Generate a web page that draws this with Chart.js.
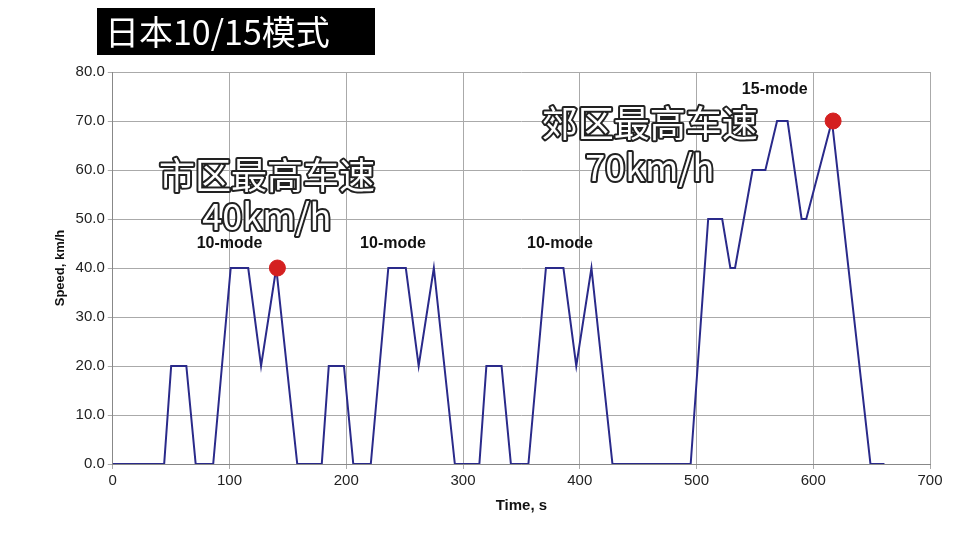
<!DOCTYPE html>
<html><head><meta charset="utf-8">
<script src="https://cdn.jsdelivr.net/npm/chart.js@4"></script>
<style>html,body{margin:0;background:#fff}#w{width:960px;height:555px;position:relative}</style>
</head><body><div id="w"><canvas id="c"></canvas></div>
<script>
const timeS = [0,44,50,63,71,86,101,116,127,140,158,
  179,185,198,206,221,236,251,262,275,293,
  314,320,333,341,356,371,386,397,410,428,
  495,510,522,529,533,548,559,569,578,590,594,616,649,661];
const speedKmh = [0,0,20,20,0,0,40,40,20,40,0,
  0,20,20,0,0,40,40,20,40,0,
  0,20,20,0,0,40,40,20,40,0,
  0,50,50,40,40,60,60,70,70,50,50,70,0,0];
const peakT = [141,617];
const peakV = [40,70];
const modeLabels = [["10-mode",100,45],["10-mode",240,45],["10-mode",383,45],["15-mode",567,76.5]];
const bigLabels = [["市区最高车速",132,59],["40km/h",132,50.5],["郊区最高车速",460,69.5],["70km/h",460,60.5]];
const xTicks = [0,100,200,300,400,500,600,700];

const pts = timeS.map((t,i)=>({x:t,y:speedKmh[i]}));
const peaks = peakT.map((t,i)=>({x:t,y:peakV[i]}));

const annot = {id:'annot', afterDatasetsDraw(ch){
  const c=ch.ctx, xs=ch.scales.x, ys=ch.scales.y;
  c.save(); c.textAlign='center'; c.textBaseline='middle';
  c.font='bold 16px "Liberation Sans", Arial'; c.fillStyle='#111';
  modeLabels.forEach(([t,x,y])=>c.fillText(t,xs.getPixelForValue(x),ys.getPixelForValue(y)));
  c.font='36px "Noto Sans CJK SC"'; c.lineJoin='round'; c.lineWidth=4; c.strokeStyle='#222'; c.fillStyle='#fff';
  bigLabels.forEach(([t,x,y])=>{const px=xs.getPixelForValue(x),py=ys.getPixelForValue(y);c.strokeText(t,px,py);c.fillText(t,px,py);});
  c.fillStyle='#000'; c.fillRect(97,8,278,47);
  c.fillStyle='#fff'; c.textAlign='left'; c.font='34px "Noto Sans CJK SC"'; c.fillText('日本10/15模式',105,32);
  c.restore();
}};

new Chart(document.getElementById('c'),{
  type:'scatter',
  data:{datasets:[
    {data:peaks,pointRadius:8,pointBackgroundColor:'#d42020',pointBorderColor:'#d42020',showLine:false,order:0},
    {data:pts,showLine:true,borderColor:'#2a2a8a',borderWidth:2,pointRadius:0,order:1}
  ]},
  options:{responsive:true,maintainAspectRatio:false,animation:false,
    layout:{padding:{left:49,right:30,top:72,bottom:36}},
    plugins:{legend:{display:false},tooltip:{enabled:false}},
    scales:{
      x:{type:'linear',min:0,max:700,afterBuildTicks:a=>{a.ticks=xTicks.map(v=>({value:v}));},
        grid:{color:'#aaa',drawTicks:true,tickLength:5},border:{color:'#888'},
        ticks:{color:'#222',font:{size:15,family:'Liberation Sans'}},
        title:{display:true,text:'Time, s',color:'#111',font:{size:15,weight:'bold',family:'Liberation Sans'}}},
      y:{min:0,max:80,ticks:{stepSize:10,color:'#222',font:{size:15,family:'Liberation Sans'},callback:v=>v.toFixed(1)},
        grid:{color:'#aaa',tickLength:5},border:{color:'#888'},
        title:{display:true,text:'Speed, km/h',color:'#111',font:{size:13,weight:'bold',family:'Liberation Sans'}}}
    }},
  plugins:[annot]
});
</script></body></html>
